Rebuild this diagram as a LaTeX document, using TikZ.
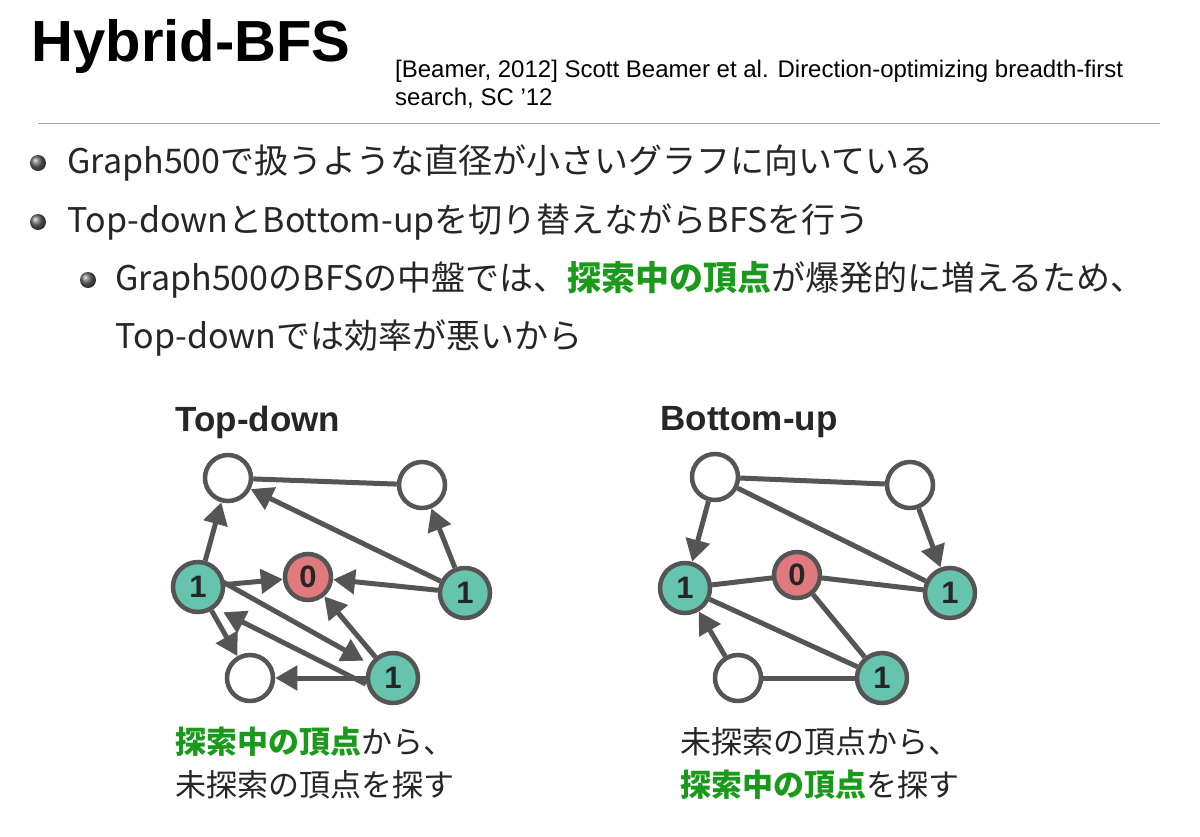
\documentclass[tikz,border=0pt]{standalone}
\usepackage{fontspec}
\setmainfont{Liberation Sans}
\newfontfamily\jp{Noto Sans CJK JP}
\usetikzlibrary{arrows.meta}
\definecolor{eg}{HTML}{555555}
\definecolor{tg}{HTML}{66C4AE}
\definecolor{rd}{HTML}{E07A7E}
\definecolor{gt}{HTML}{1A9A1A}
\tikzset{
 v/.style={circle,draw=eg,line width=4.5pt,minimum size=46pt,inner sep=0pt,fill=white,font=\fontsize{31}{31}\selectfont\bfseries,text=black!85},
 one/.style={v,fill=tg,minimum size=50pt},
 zero/.style={v,fill=rd},
 e/.style={draw=eg,line width=5pt},
 a/.style={e,-{Triangle[length=22pt,width=24pt]}},
 bt/.style={anchor=west,font=\jp\fontsize{34}{34}\selectfont,text=black!85},
 bul/.style={circle,inner sep=0pt,minimum size=16pt,shading=ball,ball color=black!60},
 captxt/.style={anchor=west,font=\jp\fontsize{31}{31}\selectfont,text=black!85},
 hd/.style={anchor=west,font=\fontsize{35}{35}\selectfont\bfseries,text=black!85}
}
\begin{document}
\begin{tikzpicture}[x=1pt,y=-1pt]
\useasboundingbox[fill=white] (0,0) rectangle (1200,836);
\node[anchor=west,font=\fontsize{58}{58}\selectfont\bfseries] (title) at (28,47) {Hybrid-BFS};
\node[anchor=north west,align=left,font=\fontsize{24}{28}\selectfont,inner sep=0pt] (cite) at (395,60) {[Beamer, 2012] Scott Beamer et al. Direction-optimizing breadth-first\\search, SC '12};
\draw[black!35,line width=1pt] (38,123) -- (1160,123);
\node[bul] (b1) at (38,163) {};
\node[bt] (t1) at (64,163) {Graph500で扱うような直径が小さいグラフに向いている};
\node[bul] (b2) at (38,222) {};
\node[bt] (t2) at (64,222) {Top-downとBottom-upを切り替えながらBFSを行う};
\node[bul] (b3) at (88,280) {};
\node[bt] (t3) at (112,280) {Graph500のBFSの中盤では、\textcolor{gt}{\bfseries 探索中の頂点}が爆発的に増えるため、};
\node[bt] (t4) at (112,338) {Top-downでは効率が悪いから};
% Top-down
\node[hd] (h1) at (172,422) {Top-down};
\node[v] (A) at (228,478) {};
\node[v] (B) at (422,485) {};
\node[one] (C) at (198,587) {1};
\node[zero] (D) at (308,577) {0};
\node[one] (E) at (465,593) {1};
\node[v] (F) at (250,678) {};
\node[one] (G) at (393,678) {1};
\draw[e] (A) -- (B);
\draw[a] (E) -- (A);
\draw[a] (C) -- (A);
\draw[a] (E) -- (B);
\draw[a] (C) -- (D);
\draw[a] (E) -- (D);
\draw[a] (G) -- (D);
\draw[a] (G) -- (F);
\draw[a] (C) -- (F);
\draw[a] ([yshift=-6pt]G.west) -- ([yshift=-6pt,xshift=6pt]C.south east);
\draw[a] ([xshift=-4pt,yshift=6pt]C.east) -- ([xshift=-10pt,yshift=-2pt]G.north west);
% Bottom-up
\node[hd] (h2) at (657,422) {Bottom-up};
\node[v] (A2) at (715,477) {};
\node[v] (B2) at (910,485) {};
\node[one] (C2) at (685,588) {1};
\node[zero] (D2) at (797,575) {0};
\node[one] (E2) at (950,593) {1};
\node[v] (F2) at (738,678) {};
\node[one] (G2) at (882,678) {1};
\draw[e] (A2) -- (B2);
\draw[a] (A2) -- (C2);
\draw[e] (A2) -- (E2);
\draw[a] (B2) -- (E2);
\draw[e] (C2) -- (D2);
\draw[e] (D2) -- (E2);
\draw[e] (D2) -- (G2);
\draw[e] (C2) -- (G2);
\draw[a] (F2) -- (C2);
\draw[e] (F2) -- (G2);
% captions
\node[captxt] (c1) at (172,742) {\textcolor{gt}{\bfseries 探索中の頂点}から、};
\node[captxt] (c2) at (172,785) {未探索の頂点を探す};
\node[captxt] (c3) at (677,742) {未探索の頂点から、};
\node[captxt] (c4) at (677,785) {\textcolor{gt}{\bfseries 探索中の頂点}を探す};
\end{tikzpicture}
\end{document}
